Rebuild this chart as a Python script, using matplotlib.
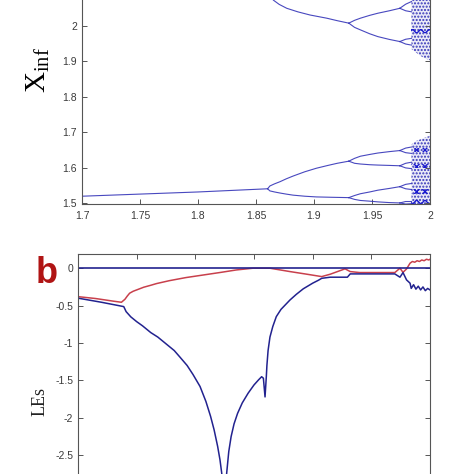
import matplotlib
matplotlib.use("Agg")
import matplotlib.pyplot as plt
from matplotlib.ticker import FuncFormatter

plt.rcParams['axes.unicode_minus'] = False
plt.rcParams['font.family'] = ['Liberation Sans', 'DejaVu Sans']
plt.rcParams['hatch.linewidth'] = 1.0

# ---- panel a: bifurcation branches ----
p1_x = [1.70, 1.75, 1.80, 1.86]
p1_y = [1.519, 1.525, 1.531, 1.540]

# lower cluster, period 2
a_x = [1.86, 1.862, 1.866, 1.8707, 1.876, 1.882, 1.892, 1.902, 1.912, 1.92, 1.93]
a_y = [1.540, 1.548, 1.554, 1.560, 1.568, 1.576, 1.588, 1.598, 1.606, 1.612, 1.618]
b_x = [1.86, 1.862, 1.866, 1.8707, 1.876, 1.882, 1.892, 1.902, 1.915, 1.93]
b_y = [1.540, 1.534, 1.531, 1.528, 1.525, 1.522, 1.519, 1.517, 1.516, 1.515]

# upper cluster, period 2 (lower arm only is in view)
c_x = [1.86, 1.862, 1.865, 1.870, 1.8765, 1.886, 1.8966, 1.911, 1.92, 1.93]
c_y = [2.11, 2.085, 2.073, 2.061, 2.050, 2.040, 2.031, 2.022, 2.015, 2.008]

# period 4
p4_x = [1.93, 1.935, 1.94, 1.948, 1.955, 1.965, 1.974]
a1_y = [1.618, 1.626, 1.632, 1.637, 1.641, 1.645, 1.648]
a2_y = [1.618, 1.612, 1.610, 1.608, 1.607, 1.606, 1.605]
b1_y = [1.515, 1.521, 1.526, 1.531, 1.536, 1.541, 1.546]
b2_y = [1.515, 1.510, 1.507, 1.505, 1.503, 1.501, 1.500]
c1_y = [2.008, 2.016, 2.022, 2.030, 2.036, 2.043, 2.050]
c2_y = [2.008, 1.996, 1.989, 1.978, 1.970, 1.962, 1.956]

# period 8 (start value, upper end, lower end)
p8_x = [1.974, 1.979, 1.984]
p8_forks = [(1.648, 1.658, 1.640), (1.605, 1.615, 1.597),
            (1.546, 1.555, 1.538), (1.500, 1.504, 1.498),
            (2.050, 2.069, 2.040), (1.956, 1.965, 1.946)]

# chaotic bands
chaos_x = [1.984, 1.988, 1.992, 1.996, 2.0]
low_lo = [1.497, 1.497, 1.497, 1.497, 1.497]
low_hi = [1.665, 1.675, 1.680, 1.685, 1.690]
up_lo = [1.935, 1.925, 1.915, 1.908, 1.903]
up_hi = [2.20, 2.20, 2.20, 2.20, 2.20]
dense_y = [1.985, 1.650, 1.605, 1.532, 1.502]

# ---- panel b: Lyapunov exponents ----
red_x = [1.700, 1.715, 1.730, 1.737, 1.740, 1.742, 1.744, 1.747, 1.750, 1.756,
         1.762, 1.767, 1.778, 1.792, 1.807, 1.822, 1.835, 1.849, 1.8636, 1.8807,
         1.895, 1.9077, 1.915, 1.922, 1.9276, 1.932, 1.940, 1.970, 1.9744, 1.977,
         1.980, 1.983, 1.985, 1.987, 1.989, 1.991, 1.993, 1.995, 1.997, 1.999,
         2.000]
red_y = [-0.380, -0.405, -0.440, -0.455, -0.415, -0.372, -0.334, -0.308, -0.290, -0.254,
         -0.228, -0.205, -0.166, -0.125, -0.090, -0.055, -0.023, 0.000, 0.000, -0.045,
         -0.080, -0.112, -0.080, -0.040, -0.008, -0.045, -0.058, -0.058, 0.000, -0.055,
         -0.010, 0.067, 0.090, 0.080, 0.100, 0.090, 0.110, 0.100, 0.120, 0.110,
         0.120]

blue_x = [1.700, 1.720, 1.739, 1.741, 1.745, 1.750, 1.755, 1.762, 1.768, 1.775,
          1.782, 1.787, 1.793, 1.798, 1.804, 1.809, 1.813, 1.816, 1.819, 1.821,
          1.8225, 1.8245, 1.8267, 1.8285, 1.8305, 1.833, 1.836, 1.840, 1.845, 1.850,
          1.854, 1.8565, 1.858, 1.8594, 1.8605, 1.861, 1.862, 1.8636, 1.866, 1.869,
          1.873, 1.8807, 1.886, 1.892, 1.900, 1.905, 1.9077, 1.915, 1.9296, 1.932,
          1.940, 1.970, 1.9744, 1.977, 1.980, 1.983, 1.984, 1.986, 1.988, 1.990,
          1.992, 1.994, 1.996, 1.998, 2.000]
blue_y = [-0.400, -0.455, -0.513, -0.580, -0.650, -0.714, -0.770, -0.860, -0.920, -1.010,
          -1.100, -1.190, -1.300, -1.420, -1.580, -1.780, -1.980, -2.160, -2.380, -2.560,
          -2.740, -3.300, -2.740, -2.450, -2.250, -2.080, -1.940, -1.800, -1.670, -1.560,
          -1.490, -1.450, -1.470, -1.720, -1.450, -1.300, -1.100, -0.920, -0.780, -0.647,
          -0.550, -0.424, -0.350, -0.275, -0.200, -0.160, -0.135, -0.120, -0.120, -0.076,
          -0.076, -0.076, -0.120, -0.058, -0.156, -0.200, -0.270, -0.220, -0.280, -0.240,
          -0.290, -0.250, -0.300, -0.270, -0.290]

zero_x = [1.7, 2.0]
zero_y = [0.0, 0.0]

bif_col = '#3434b8'
red_col = '#c8404c'
blue_col = '#22228f'
spine_col = '#555555'
tick_col = '#3a3a3a'

fig = plt.figure(figsize=(4.74, 4.74), dpi=100)
W = 474.0


def box(l, t, r, b):
    return [l / W, 1 - b / W, (r - l) / W, (b - t) / W]


def style(ax):
    for s in ax.spines.values():
        s.set_color(spine_col)
        s.set_linewidth(0.8)
    ax.tick_params(direction='in', length=3.5, width=0.7, colors=spine_col,
                   labelcolor=tick_col, labelsize=7.5, top=True, right=True)
    ax.xaxis.set_major_formatter(FuncFormatter(lambda v, p: '%g' % round(v, 3)))
    ax.yaxis.set_major_formatter(FuncFormatter(lambda v, p: '%g' % round(v, 3)))


# panel a
ax1 = fig.add_axes(box(82, -62.5, 430, 204))
style(ax1)
kw = dict(color=bif_col, lw=0.8, alpha=0.9)
ax1.plot(p1_x, p1_y, **kw)
for xs, ys in [(a_x, a_y), (b_x, b_y), (c_x, c_y)]:
    ax1.plot(xs, ys, **kw)
for ys in [a1_y, a2_y, b1_y, b2_y, c1_y, c2_y]:
    ax1.plot(p4_x, ys, **kw)
for y0, yu, yd in p8_forks:
    ax1.plot(p8_x, [y0, (y0 + yu) / 2 + 0.002, yu], **kw)
    ax1.plot(p8_x, [y0, (y0 + yd) / 2 - 0.002, yd], **kw)
for lo, hi in [(low_lo, low_hi), (up_lo, up_hi)]:
    ax1.fill_between(chaos_x, lo, hi, facecolor=bif_col, alpha=0.10, lw=0)
    ax1.fill_between(chaos_x, lo, hi, facecolor='none', edgecolor=bif_col,
                     hatch='.....', lw=0)
for yd in dense_y:
    ax1.fill_between(chaos_x, yd - 0.006, yd + 0.006, facecolor='none',
                     edgecolor='#1a1ad0', hatch='xxxx', lw=0)
ax1.set_xlim(1.7, 2.0)
ax1.set_ylim(1.497, 2.25)
ax1.set_xticks([1.7, 1.75, 1.8, 1.85, 1.9, 1.95, 2.0])
ax1.set_yticks([1.5, 1.6, 1.7, 1.8, 1.9, 2.0])
ax1.tick_params(axis='x', pad=5)

fig.text(38 / W, 1 - 70 / W, r'$\mathregular{X_{inf}}$', rotation=90,
         ha='center', va='center', fontsize=21, family='Liberation Serif')

# panel b
ax2 = fig.add_axes(box(78, 254, 430, 492.7))
style(ax2)
ax2.plot(red_x, red_y, color=red_col, lw=1.1)
ax2.plot(blue_x, blue_y, color=blue_col, lw=1.1)
ax2.plot(zero_x, zero_y, color=blue_col, lw=1.2)
ax2.set_xlim(1.7, 2.0)
ax2.set_ylim(-3.0, 0.19)
ax2.set_xticks([1.7, 1.75, 1.8, 1.85, 1.9, 1.95, 2.0])
ax2.set_yticks([0, -0.5, -1, -1.5, -2, -2.5])
ax2.tick_params(axis='x', labelbottom=False)

fig.text(40 / W, 1 - 402 / W, 'LEs', rotation=90, ha='center', va='center',
         fontsize=13, family='Liberation Serif', color='#222222')
fig.text(46.5 / W, 1 - 283 / W, 'b', ha='center', va='baseline',
         fontsize=26, fontweight='bold', color='#b01414')

fig.savefig('out.png', dpi=100)
